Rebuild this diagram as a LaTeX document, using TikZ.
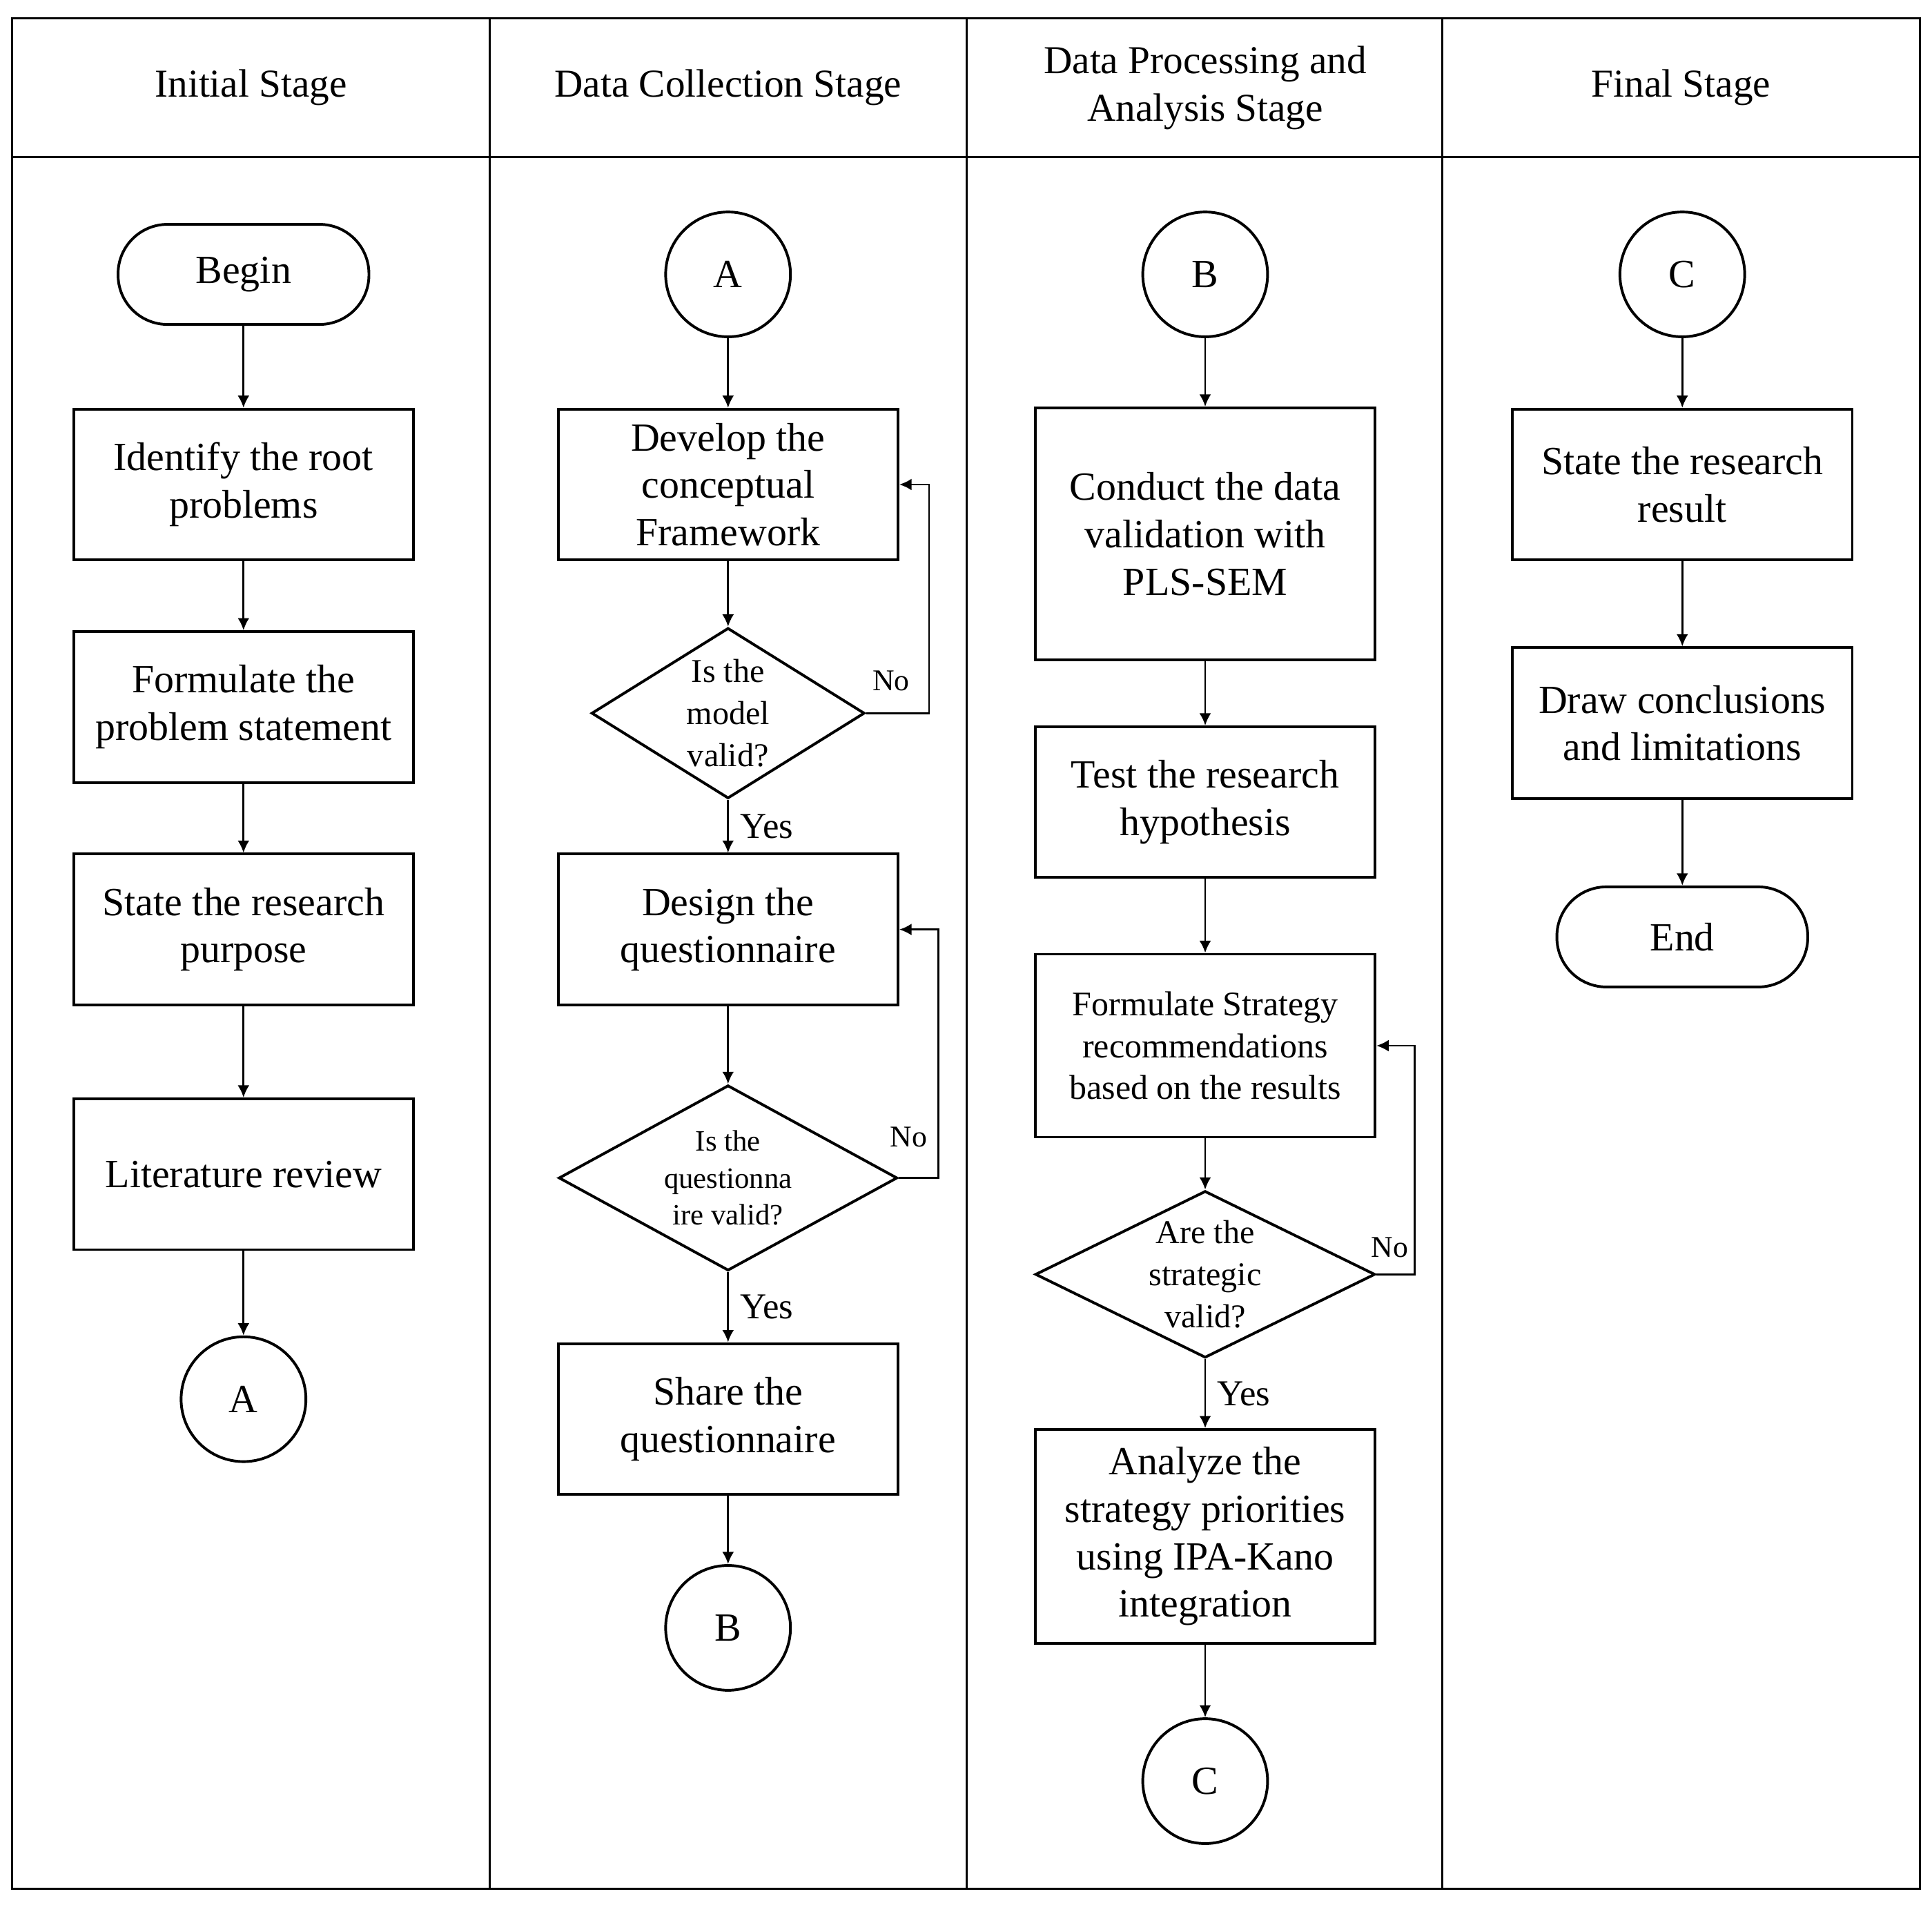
\documentclass[tikz,border=0pt]{standalone}
\usepackage{fontspec}
\setmainfont{Liberation Serif}
\usetikzlibrary{arrows.meta,shapes.geometric}

\begin{document}
\begin{tikzpicture}[x=0.02cm,y=-0.02cm,
		lane/.style={line width=1pt},
		head/.style={align=center,font=\fontsize{18.2}{22}\selectfont},
		box/.style={draw,line width=1.25pt,minimum width=5.5cm,minimum height=2.44cm,inner sep=0pt,align=center,font=\fontsize{18.4}{21.8}\selectfont},
		term/.style={draw,line width=1.25pt,rounded corners=0.8cm,minimum width=4.06cm,minimum height=1.62cm,font=\fontsize{18.4}{21.8}\selectfont},
		conn/.style={draw,circle,line width=1.25pt,minimum size=2.02cm,inner sep=0pt,font=\fontsize{18.4}{21.8}\selectfont},
		dec/.style={draw,diamond,line width=1.25pt,inner sep=0pt},
		dtext/.style={align=center,font=\fontsize{15.3}{19.3}\selectfont},
		arr/.style={-{Latex[length=5.6pt,width=5.4pt]},line width=0.85pt},
		yes/.style={anchor=west,inner sep=0pt,xshift=0.18cm,font=\fontsize{16.8}{20}\selectfont},
		nolab/.style={inner sep=0pt,font=\fontsize{13.9}{16}\selectfont}]
			\useasboundingbox (0,0) rectangle (1563,1541);

			\draw[lane] (10,15) rectangle (1553,1528);
			\draw[lane] (10,127) -- (1553,127);
			\foreach \x in {396,782,1167}
				\draw[lane] (\x,15) -- (\x,1528);

			\node[head] (h1) at (203,71) {Initial Stage};
			\node[head] (h2) at (589,71) {Data Collection Stage};
			\node[head] (h3) at (975,71) {Data Processing and\\Analysis Stage};
			\node[head] (h4) at (1360,71) {Final Stage};

			\node[term] (begin) at (197,222) {Begin};
			\node[box] (ident) at (197,392) {Identify the root\\problems};
			\node[box] (formp) at (197,572) {Formulate the\\problem statement};
			\node[box] (purp) at (197,752) {State the research\\purpose};
			\node[box] (lit) at (197,950) {Literature review};
			\node[conn] (outa) at (197,1132) {A};

			\draw[arr] (begin) -- (ident);
			\draw[arr] (ident) -- (formp);
			\draw[arr] (formp) -- (purp);
			\draw[arr] (purp) -- (lit);
			\draw[arr] (lit) -- (outa);

			\node[conn] (ina) at (589,222) {A};
			\node[box] (dev) at (589,392) {Develop the\\conceptual\\Framework};
			\node[dec,minimum width=4.42cm,minimum height=2.76cm,
				label={[dtext]center:Is the\\model\\valid?}] (dmod) at (589,577) {};
			\node[box] (des) at (589,752) {Design the\\questionnaire};
			\node[dec,minimum width=5.48cm,minimum height=3.0cm,
				label={[dtext,font=\fontsize{13.6}{17}\selectfont]center:Is the\\questionna\\ire valid?}] (dque) at (589,953) {};
			\node[box] (share) at (589,1148) {Share the\\questionnaire};
			\node[conn] (outb) at (589,1317) {B};

			\draw[arr] (ina) -- (dev);
			\draw[arr] (dev) -- (dmod);
			\draw[arr] (dmod) -- node[yes] {Yes} (des);
			\draw[arr] (dmod.east) -- node[nolab,pos=0.4,yshift=0.52cm] {No} ++(51,0) |- (dev.east);
			\draw[arr] (des) -- (dque);
			\draw[arr] (dque) -- node[yes] {Yes} (share);
			\draw[arr] (dque.east) -- node[nolab,pos=0.25,yshift=0.66cm] {No} ++(32,0) |- (des.east);
			\draw[arr] (share) -- (outb);

			\node[conn] (inb) at (975,222) {B};
			\node[box,minimum height=4.08cm] (cond) at (975,432) {Conduct the data\\validation with\\PLS-SEM};
			\node[box] (test) at (975,649) {Test the research\\hypothesis};
			\node[box,minimum height=2.96cm,font=\fontsize{15.9}{19.3}\selectfont] (strat) at (975,846) {Formulate Strategy\\recommendations\\based on the results};
			\node[dec,minimum width=5.5cm,minimum height=2.7cm,
				label={[dtext]center:Are the\\strategic\\valid?}] (dstr) at (975,1031) {};
			\node[box,minimum height=3.46cm] (anal) at (975,1243) {Analyze the\\strategy priorities\\using IPA-Kano\\integration};
			\node[conn] (outc) at (975,1441) {C};

			\draw[arr] (inb) -- (cond);
			\draw[arr] (cond) -- (test);
			\draw[arr] (test) -- (strat);
			\draw[arr] (strat) -- (dstr);
			\draw[arr] (dstr) -- node[yes] {Yes} (anal);
			\draw[arr] (dstr.east) -- node[nolab,pos=0.35,yshift=0.44cm] {No} ++(31,0) |- (strat.east);
			\draw[arr] (anal) -- (outc);

			\node[conn] (inc) at (1361,222) {C};
			\node[box] (res) at (1361,392) {State the research\\result};
			\node[box] (concl) at (1361,585) {Draw conclusions\\and limitations};
			\node[term] (fin) at (1361,758) {End};

			\draw[arr] (inc) -- (res);
			\draw[arr] (res) -- (concl);
			\draw[arr] (concl) -- (fin);
		\end{tikzpicture}
\end{document}
